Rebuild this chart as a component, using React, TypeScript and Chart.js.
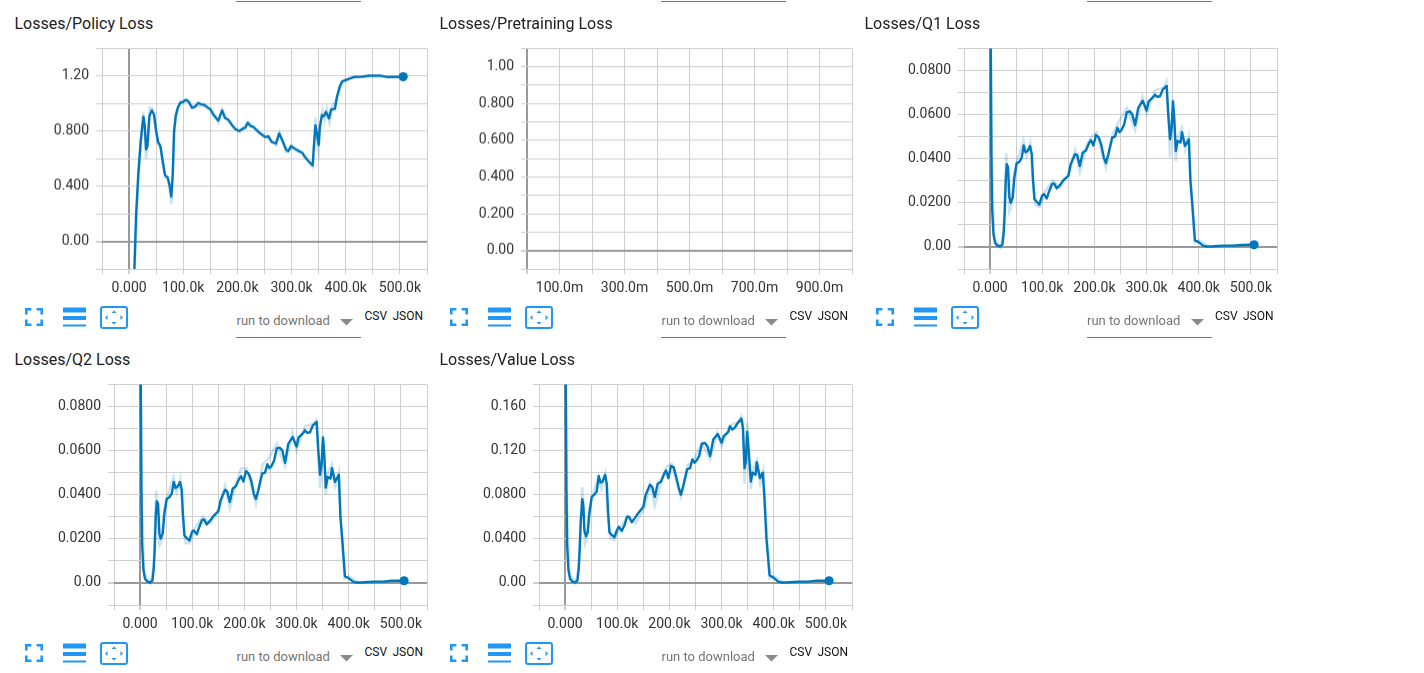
import { useEffect, useRef } from "react";
import { Chart, registerables } from "chart.js";

Chart.register(...registerables);

const FONT = "Roboto";
const BLUE = "#0077bb";
const ICON_BLUE = "#2196f3";

// steps are in thousands, so 100 reads as 100.0k
const xTicks = [0, 100, 200, 300, 400, 500];
const xLabels = ["0.000", "100.0k", "200.0k", "300.0k", "400.0k", "500.0k"];

const policySteps = [9.8, 13, 17, 21.5, 26.5, 29, 31.4, 33.8, 37.5, 41.8, 46, 50, 53.5, 57.8, 62, 66.4, 71.3, 75, 78, 80.6, 83, 86, 89.8, 94.7, 99, 104.5, 109.5, 116, 122, 128, 134, 138, 144.5, 150.7, 155.6, 164.8, 171.6, 177, 183, 189.4, 195.6, 203, 211, 214.6, 219, 224.5, 229.4, 238.6, 251, 257, 263, 271, 277, 283.5, 289.7, 294, 299, 306, 313.6, 320, 324.7, 331, 339, 341, 344, 347, 350, 352, 356, 360, 363.5, 369, 373, 380, 384, 389, 393.6, 404.7, 415, 429, 444.6, 463, 478, 494, 506];
const policyValues = [-0.2, 0.198, 0.487, 0.728, 0.904, 0.836, 0.667, 0.692, 0.909, 0.95, 0.92, 0.8, 0.723, 0.692, 0.583, 0.48, 0.463, 0.402, 0.325, 0.487, 0.8, 0.909, 0.969, 1.01, 1.01, 1.027, 1.017, 0.969, 0.98, 1.005, 0.993, 0.993, 0.974, 0.957, 0.92, 0.877, 0.95, 0.896, 0.884, 0.848, 0.817, 0.8, 0.819, 0.824, 0.86, 0.836, 0.831, 0.795, 0.757, 0.764, 0.723, 0.709, 0.783, 0.728, 0.667, 0.655, 0.692, 0.672, 0.655, 0.643, 0.612, 0.583, 0.552, 0.68, 0.843, 0.776, 0.699, 0.824, 0.916, 0.909, 0.94, 0.892, 0.957, 0.962, 1.053, 1.125, 1.162, 1.178, 1.193, 1.195, 1.203, 1.203, 1.193, 1.193, 1.195];
const policyRawSteps = [10, 17, 22, 26, 29, 31, 34, 38, 42, 47, 52, 58, 63, 67, 72, 75, 78, 81, 84, 88, 95, 105, 120, 135, 150, 165, 172, 180, 195, 205, 220, 240, 260, 272, 278, 290, 300, 320, 339, 342, 344, 347, 350, 353, 357, 361, 365, 370, 375, 385, 395, 415, 445, 480, 506];
const policyRawValues = [-0.2, 0.45, 0.75, 0.94, 0.8, 0.6, 0.68, 0.97, 0.97, 0.9, 0.72, 0.68, 0.56, 0.46, 0.45, 0.38, 0.27, 0.5, 0.82, 0.93, 1, 1.03, 0.97, 0.99, 0.95, 0.86, 0.96, 0.89, 0.82, 0.8, 0.87, 0.79, 0.74, 0.7, 0.79, 0.65, 0.68, 0.64, 0.54, 0.72, 0.9, 0.72, 0.65, 0.85, 0.95, 0.88, 0.96, 0.86, 0.98, 1.05, 1.16, 1.19, 1.2, 1.19, 1.195];

const q1Steps = [1, 1.3, 2.5, 3.8, 6.4, 9.6, 14, 19, 23.6, 26, 28, 30, 32, 34.5, 37, 39.6, 43.4, 46.6, 51, 56, 60.7, 64.5, 68, 72, 76.6, 80, 82, 85, 89.4, 94.5, 99.6, 103, 108.6, 113.7, 118.8, 122.6, 127.7, 134, 140.5, 150, 154.5, 162.8, 167, 172, 177.5, 184, 190, 193.5, 198, 203, 208, 213, 218, 222, 226.7, 234, 239.5, 244, 248, 252, 257, 262, 268, 272.7, 278, 284, 292.5, 300, 304, 313, 316, 320.6, 325.7, 331, 338.5, 341.6, 345, 348, 350.6, 353, 356, 359.5, 365, 367.8, 373.6, 381, 384, 387.6, 392.7, 399, 409, 415, 428, 447, 466, 482, 506];
const q1Values = [0.12, 0.09, 0.0435, 0.018, 0.006, 0.0018, 0.0006, 0.0003, 0.001, 0.006, 0.015, 0.03, 0.0375, 0.036, 0.0225, 0.02, 0.0225, 0.0315, 0.038, 0.0385, 0.0405, 0.046, 0.043, 0.0435, 0.0457, 0.042, 0.0315, 0.0217, 0.0205, 0.0192, 0.0232, 0.024, 0.022, 0.0255, 0.0285, 0.0288, 0.0265, 0.028, 0.0303, 0.0322, 0.0375, 0.042, 0.0417, 0.0367, 0.0427, 0.0438, 0.0472, 0.0484, 0.046, 0.0507, 0.0498, 0.0465, 0.0405, 0.038, 0.042, 0.0495, 0.05, 0.054, 0.052, 0.053, 0.0555, 0.061, 0.0615, 0.06, 0.0552, 0.063, 0.0663, 0.0618, 0.066, 0.068, 0.069, 0.068, 0.0683, 0.0713, 0.073, 0.06, 0.0488, 0.054, 0.066, 0.0585, 0.0435, 0.048, 0.0473, 0.052, 0.0458, 0.0488, 0.03, 0.0195, 0.003, 0.0023, 0.0005, 0.0002, 0.0003, 0.0006, 0.0006, 0.0009, 0.001];
const q1RawSteps = [1, 3, 8, 20, 26, 29, 31, 34, 37, 40, 46, 52, 64, 70, 77, 82, 87, 95, 105, 120, 135, 152, 163, 172, 185, 194, 204, 222, 235, 245, 262, 278, 292, 300, 316, 332, 338, 342, 345, 350.5, 353, 356, 360, 367.8, 374, 381, 385, 392, 400, 420, 506];
const q1RawValues = [0.12, 0.04, 0.004, 0, 0.007, 0.03, 0.0425, 0.03, 0.016, 0.018, 0.033, 0.039, 0.048, 0.041, 0.047, 0.03, 0.019, 0.018, 0.025, 0.03, 0.027, 0.034, 0.044, 0.034, 0.046, 0.05, 0.052, 0.036, 0.051, 0.056, 0.063, 0.053, 0.068, 0.06, 0.071, 0.072, 0.075, 0.058, 0.0405, 0.067, 0.055, 0.039, 0.05, 0.054, 0.044, 0.05, 0.028, 0.002, 0.003, 0, 0.001];

const q2Steps = [1, 1.3, 2.5, 3.8, 6.4, 9.6, 14, 19, 23.6, 26, 28, 30, 32, 34.5, 37, 39.6, 43.4, 46.6, 51, 56, 60.7, 64.5, 68, 72, 76.6, 80, 82, 85, 89.4, 94.5, 99.6, 103, 108.6, 113.7, 118.8, 122.6, 127.7, 134, 140.5, 150, 154.5, 162.8, 167, 172, 177.5, 184, 190, 193.5, 198, 203, 208, 213, 218, 222, 226.7, 234, 239.5, 244, 248, 252, 257, 262, 268, 272.7, 278, 284, 292.5, 300, 304, 313, 316, 320.6, 325.7, 331, 338.5, 341.6, 345, 348, 350.6, 353, 356, 359.5, 365, 367.8, 373.6, 381, 384, 387.6, 392.7, 399, 409, 415, 428, 447, 466, 482, 506];
const q2Values = [0.12, 0.09, 0.044, 0.018, 0.006, 0.0018, 0.0006, 0.0002, 0.001, 0.006, 0.015, 0.03, 0.037, 0.036, 0.0225, 0.0201, 0.0225, 0.0315, 0.038, 0.0388, 0.0405, 0.0458, 0.043, 0.0437, 0.0457, 0.042, 0.0315, 0.0215, 0.0203, 0.0192, 0.0232, 0.0238, 0.022, 0.0255, 0.0285, 0.0288, 0.0265, 0.0282, 0.0303, 0.0325, 0.0375, 0.0422, 0.0415, 0.0367, 0.0427, 0.044, 0.0472, 0.0484, 0.046, 0.0507, 0.0496, 0.0465, 0.0405, 0.038, 0.042, 0.0495, 0.05, 0.0538, 0.052, 0.053, 0.0555, 0.061, 0.0613, 0.06, 0.0545, 0.063, 0.0661, 0.0618, 0.066, 0.068, 0.0692, 0.068, 0.0683, 0.0713, 0.073, 0.06, 0.049, 0.054, 0.066, 0.0585, 0.0432, 0.048, 0.0473, 0.052, 0.0458, 0.049, 0.03, 0.0195, 0.003, 0.0023, 0.0005, 0.0002, 0.0003, 0.0006, 0.0006, 0.001, 0.001];
const q2RawSteps = [1, 3, 8, 20, 26, 29, 31, 34, 37, 40, 46, 52, 64, 70, 77, 82, 87, 95, 105, 120, 135, 152, 163, 172, 185, 194, 204, 222, 235, 245, 262, 278, 292, 300, 316, 332, 338, 342, 345, 350.5, 353, 356, 360, 367.8, 374, 381, 385, 392, 400, 420, 506];
const q2RawValues = [0.12, 0.04, 0.004, 0, 0.007, 0.03, 0.042, 0.03, 0.017, 0.018, 0.033, 0.039, 0.048, 0.041, 0.047, 0.03, 0.018, 0.018, 0.025, 0.03, 0.027, 0.034, 0.044, 0.034, 0.046, 0.052, 0.052, 0.036, 0.054, 0.056, 0.063, 0.053, 0.068, 0.06, 0.071, 0.072, 0.074, 0.058, 0.043, 0.066, 0.055, 0.04, 0.05, 0.054, 0.044, 0.05, 0.028, 0.002, 0.003, 0, 0.001];

const valueSteps = [1, 1.3, 2.5, 3.8, 6.4, 9.6, 14, 19, 23.6, 26, 28, 30, 33, 35, 37, 40, 43.4, 46.6, 51, 56, 60.7, 64.5, 68, 72, 76.6, 80, 82, 85, 89.4, 94.5, 99.6, 103, 108.6, 113.7, 118.8, 122.6, 127.7, 134, 140.5, 150, 154.5, 162.8, 167, 172, 177.5, 184, 190, 193.5, 198, 203, 208, 213, 218, 222, 226.7, 234, 239.5, 244, 248, 252, 257, 262, 268, 272.7, 278, 284, 292.5, 300, 304, 313, 316, 320.6, 325.7, 331, 338, 341, 344, 346.5, 349, 352, 356, 359.5, 365, 367.5, 373.6, 379, 382, 386, 392, 399, 409, 415, 428, 447, 466, 482, 506];
const valueValues = [0.24, 0.18, 0.088, 0.036, 0.012, 0.0036, 0.0012, 0.0006, 0.002, 0.012, 0.03, 0.055, 0.0759, 0.07, 0.048, 0.0423, 0.046, 0.063, 0.078, 0.08, 0.083, 0.097, 0.091, 0.092, 0.098, 0.09, 0.068, 0.046, 0.0435, 0.0414, 0.048, 0.051, 0.047, 0.052, 0.06, 0.06, 0.055, 0.059, 0.0635, 0.069, 0.08, 0.089, 0.087, 0.078, 0.09, 0.092, 0.099, 0.102, 0.095, 0.106, 0.105, 0.096, 0.086, 0.08, 0.088, 0.103, 0.104, 0.112, 0.109, 0.111, 0.115, 0.126, 0.127, 0.124, 0.115, 0.13, 0.135, 0.127, 0.133, 0.137, 0.142, 0.139, 0.141, 0.145, 0.149, 0.14, 0.104, 0.11, 0.137, 0.12, 0.092, 0.1, 0.098, 0.1095, 0.095, 0.1, 0.078, 0.04, 0.007, 0.005, 0.001, 0.0004, 0.0006, 0.0012, 0.0012, 0.002, 0.002];
const valueRawSteps = [1, 3, 8, 20, 26, 30, 33, 36, 38, 41, 46, 52, 64, 70, 77, 82, 87, 95, 105, 120, 135, 152, 163, 172, 185, 194, 204, 222, 235, 245, 262, 278, 292, 300, 316, 332, 338, 341, 344, 349, 352, 356, 360, 367.5, 374, 380, 385, 392, 400, 420, 506];
const valueRawValues = [0.24, 0.08, 0.008, 0, 0.014, 0.06, 0.087, 0.06, 0.035, 0.038, 0.066, 0.078, 0.096, 0.085, 0.098, 0.06, 0.04, 0.039, 0.05, 0.06, 0.054, 0.068, 0.09, 0.07, 0.093, 0.105, 0.108, 0.078, 0.107, 0.11, 0.127, 0.112, 0.136, 0.124, 0.143, 0.146, 0.151, 0.145, 0.09, 0.145, 0.115, 0.085, 0.103, 0.111, 0.09, 0.102, 0.06, 0.004, 0.006, 0, 0.002];

type Panel = {
  title: string;
  col: number;
  row: number;
  plotLeft: number;
  plotRight: number;
  plotTop: number;
  plotBottom: number;
  xMin: number;
  xMax: number;
  xStep: number;
  xTickValues: number[];
  xTickLabels: string[];
  yMin: number;
  yMax: number;
  yStep: number;
  yTickValues: number[];
  yTickLabels: string[];
  steps: number[];
  values: number[];
  rawSteps: number[];
  rawValues: number[];
};

const panels: Panel[] = [
  {
    title: "Losses/Policy Loss", col: 0, row: 0,
    plotLeft: 102, plotRight: 427, plotTop: 47, plotBottom: 268.5,
    xMin: -50, xMax: 550, xStep: 50, xTickValues: xTicks, xTickLabels: xLabels,
    yMin: -0.2, yMax: 1.4, yStep: 0.2,
    yTickValues: [0, 0.4, 0.8, 1.2], yTickLabels: ["0.00", "0.400", "0.800", "1.20"],
    steps: policySteps, values: policyValues, rawSteps: policyRawSteps, rawValues: policyRawValues,
  },
  {
    title: "Losses/Pretraining Loss", col: 1, row: 0,
    plotLeft: 527, plotRight: 852, plotTop: 47, plotBottom: 268.5,
    xMin: 0, xMax: 1, xStep: 0.1,
    xTickValues: [0.1, 0.3, 0.5, 0.7, 0.9],
    xTickLabels: ["100.0m", "300.0m", "500.0m", "700.0m", "900.0m"],
    yMin: -0.1, yMax: 1.1, yStep: 0.1,
    yTickValues: [0, 0.2, 0.4, 0.6, 0.8, 1],
    yTickLabels: ["0.00", "0.200", "0.400", "0.600", "0.800", "1.00"],
    steps: [], values: [], rawSteps: [], rawValues: [],
  },
  {
    title: "Losses/Q1 Loss", col: 2, row: 0,
    plotLeft: 964, plotRight: 1277, plotTop: 47, plotBottom: 269,
    xMin: -50, xMax: 550, xStep: 50, xTickValues: xTicks, xTickLabels: xLabels,
    yMin: -0.01, yMax: 0.09, yStep: 0.01,
    yTickValues: [0, 0.02, 0.04, 0.06, 0.08],
    yTickLabels: ["0.00", "0.0200", "0.0400", "0.0600", "0.0800"],
    steps: q1Steps, values: q1Values, rawSteps: q1RawSteps, rawValues: q1RawValues,
  },
  {
    title: "Losses/Q2 Loss", col: 0, row: 1,
    plotLeft: 114, plotRight: 427, plotTop: 383, plotBottom: 605,
    xMin: -50, xMax: 550, xStep: 50, xTickValues: xTicks, xTickLabels: xLabels,
    yMin: -0.01, yMax: 0.09, yStep: 0.01,
    yTickValues: [0, 0.02, 0.04, 0.06, 0.08],
    yTickLabels: ["0.00", "0.0200", "0.0400", "0.0600", "0.0800"],
    steps: q2Steps, values: q2Values, rawSteps: q2RawSteps, rawValues: q2RawValues,
  },
  {
    title: "Losses/Value Loss", col: 1, row: 1,
    plotLeft: 539, plotRight: 852, plotTop: 383, plotBottom: 605,
    xMin: -50, xMax: 550, xStep: 50, xTickValues: xTicks, xTickLabels: xLabels,
    yMin: -0.02, yMax: 0.18, yStep: 0.02,
    yTickValues: [0, 0.04, 0.08, 0.12, 0.16],
    yTickLabels: ["0.00", "0.0400", "0.0800", "0.120", "0.160"],
    steps: valueSteps, values: valueValues, rawSteps: valueRawSteps, rawValues: valueRawValues,
  },
];

function pickLabel(value: number, ticks: number[], labels: string[]) {
  const i = ticks.findIndex((t) => Math.abs(t - value) < 1e-6);
  return i >= 0 ? labels[i] : "";
}

function isZero(value: number) {
  return Math.abs(value) < 1e-9;
}

const AXIS_ROOM = 80;
const TOP_ROOM = 14;
const RIGHT_ROOM = 14;
const BOTTOM_ROOM = 34;

function PanelChart({ panel }: { panel: Panel }) {
  const canvasRef = useRef<HTMLCanvasElement>(null);

  useEffect(() => {
    if (!canvasRef.current) return;
    const toPoints = (xs: number[], ys: number[]) => xs.map((x, i) => ({ x, y: ys[i] }));
    const last = panel.steps.length - 1;

    const chart = new Chart(canvasRef.current, {
      type: "line",
      data: {
        datasets: [
          {
            label: "smoothed",
            data: toPoints(panel.steps, panel.values),
            borderColor: BLUE,
            backgroundColor: BLUE,
            borderWidth: 2.4,
            borderJoinStyle: "round",
            pointRadius: (ctx: any) => (ctx.dataIndex === last ? 4.6 : 0),
            pointBorderWidth: 0,
            tension: 0,
          },
          {
            label: "raw",
            data: toPoints(panel.rawSteps, panel.rawValues),
            borderColor: "rgba(0, 119, 187, 0.2)",
            borderWidth: 2.6,
            pointRadius: 0,
            tension: 0,
          },
        ],
      },
      options: {
        animation: false,
        responsive: false,
        events: [],
        layout: { padding: { top: TOP_ROOM, right: RIGHT_ROOM, left: 0, bottom: 0 } },
        plugins: { legend: { display: false }, tooltip: { enabled: false } },
        scales: {
          x: {
            type: "linear",
            min: panel.xMin,
            max: panel.xMax,
            afterFit: (scale: any) => {
              scale.height = BOTTOM_ROOM;
            },
            border: { display: false },
            grid: {
              color: (ctx: any) => (isZero(ctx.tick.value) ? "#999999" : "#cfcfcf"),
              lineWidth: (ctx: any) => (isZero(ctx.tick.value) ? 2 : 1),
              tickColor: "#cfcfcf",
              tickLength: 5,
            },
            ticks: {
              stepSize: panel.xStep,
              autoSkip: false,
              maxRotation: 0,
              padding: 6,
              color: "#333333",
              font: { family: FONT, size: 14 },
              callback: (value: any) => pickLabel(Number(value), panel.xTickValues, panel.xTickLabels),
            },
          },
          y: {
            min: panel.yMin,
            max: panel.yMax,
            afterFit: (scale: any) => {
              scale.width = AXIS_ROOM;
            },
            border: { display: false },
            grid: {
              color: (ctx: any) => (isZero(ctx.tick.value) ? "#999999" : "#cfcfcf"),
              lineWidth: (ctx: any) => (isZero(ctx.tick.value) ? 2 : 1),
              tickColor: "#cfcfcf",
              tickLength: 6,
            },
            ticks: {
              stepSize: panel.yStep,
              autoSkip: false,
              padding: 7,
              color: "#333333",
              font: { family: FONT, size: 14 },
              callback: (value: any) => pickLabel(Number(value), panel.yTickValues, panel.yTickLabels),
            },
          },
        },
      },
    });

    return () => chart.destroy();
  }, [panel]);

  const width = panel.plotRight - panel.plotLeft + AXIS_ROOM + RIGHT_ROOM;
  const height = panel.plotBottom - panel.plotTop + TOP_ROOM + BOTTOM_ROOM;
  return (
    <canvas
      ref={canvasRef}
      width={width}
      height={height}
      style={{
        position: "absolute",
        left: panel.plotLeft - AXIS_ROOM,
        top: panel.plotTop - TOP_ROOM,
        width,
        height,
      }}
    />
  );
}

function Controls({ col, row }: { col: number; row: number }) {
  const left = col * 425 + (col === 2 ? 0.5 : 0);
  const top = row * 336;
  const text: React.CSSProperties = { position: "absolute", fontFamily: FONT, whiteSpace: "nowrap" };
  return (
    <div style={{ position: "absolute", left, top }}>
      <svg width="18" height="18" viewBox="5 5 14 14" style={{ position: "absolute", left: 25, top: 308 }}>
        <path fill={ICON_BLUE} d="M7 14H5v5h5v-2H7v-3zm-2-4h2V7h3V5H5v5zm12 7h-3v2h5v-5h-2v3zM14 5v2h3v3h2V5h-5z" />
      </svg>
      <svg width="23" height="20" style={{ position: "absolute", left: 63, top: 307 }}>
        <rect x="0" y="0.5" width="23" height="5" fill={ICON_BLUE} />
        <rect x="0" y="9" width="23" height="4" fill={ICON_BLUE} />
        <rect x="0" y="17.5" width="23" height="2" fill={ICON_BLUE} />
      </svg>
      <svg width="28" height="23" style={{ position: "absolute", left: 100, top: 306 }}>
        <rect x="1" y="1" width="26" height="21" rx="2" fill="#ffffff" stroke={ICON_BLUE} strokeWidth="2" />
        <path fill={ICON_BLUE} d="M14 4.5l2.5 2.5h-5zM14 18.5l-2.5-2.5h5zM5 11.5l2.5-2.5v5zM23 11.5l-2.5 2.5v-5z" />
      </svg>
      <div style={{ ...text, left: 236.5, top: 313, fontSize: 13, lineHeight: "16px", color: "#757575" }}>
        run to download
      </div>
      <svg width="14" height="7" style={{ position: "absolute", left: 340, top: 319 }}>
        <path d="M0 0h13l-6.5 6.5z" fill="#8a8a8a" />
      </svg>
      <div style={{ ...text, left: 364.5, top: 309, fontSize: 12, lineHeight: "14px", color: "#111111" }}>CSV</div>
      <div style={{ ...text, left: 392.5, top: 309, fontSize: 12, lineHeight: "14px", color: "#111111" }}>JSON</div>
      {row === 0 && (
        <div style={{ position: "absolute", left: 236, top: 337, width: 125, height: 1, background: "#757575" }} />
      )}
      {row === 0 && (
        <div style={{ position: "absolute", left: 236, top: 1, width: 125, height: 1, background: "#757575" }} />
      )}
    </div>
  );
}

export default function App() {
  return (
    <div style={{ position: "absolute", left: 0, top: 0, width: 1424, height: 673, overflow: "hidden", background: "#fff" }}>
      {panels.map((panel) => (
        <div key={panel.title}>
          <div
            style={{
              position: "absolute",
              left: 14.5 + panel.col * 425,
              top: 14 + panel.row * 336,
              fontFamily: FONT,
              fontSize: 16,
              lineHeight: "20px",
              color: "#212121",
              whiteSpace: "nowrap",
            }}
          >
            {panel.title}
          </div>
          <PanelChart panel={panel} />
          <Controls col={panel.col} row={panel.row} />
        </div>
      ))}
    </div>
  );
}
